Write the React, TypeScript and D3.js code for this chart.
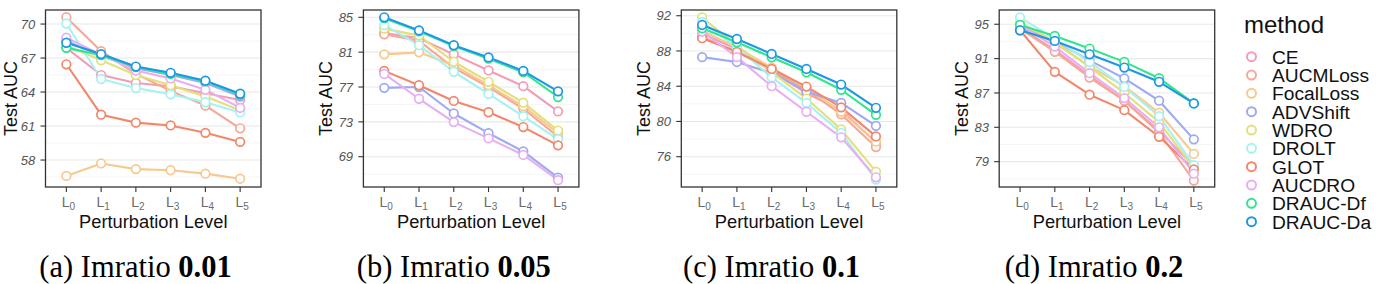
import React from "react";
import * as d3 from "d3";

const LEVELS = ["0", "1", "2", "3", "4", "5"];
const METHODS = ["CE", "AUCMLoss", "FocalLoss", "ADVShift", "WDRO", "DROLT", "GLOT", "AUCDRO", "DRAUC-Df", "DRAUC-Da"];
const COLORS = ["#F29DB6", "#F5A896", "#F8C98F", "#9EAAF0", "#E3DF7B", "#A6F1F2", "#F0886B", "#E7AEF1", "#2FE68E", "#1E97E5"];
const IMRATIOS = ["0.01", "0.05", "0.1", "0.2"];
const LETTERS = ["a", "b", "c", "d"];

// Imratio 0.01
const TICKS_001 = [58, 61, 64, 67, 70];
const DOMAIN_001 = [55.62, 71.24];
const AUC_001 = [
  [67.9, 65.5, 64.8, 64.5, 63.9, 63.3],
  [70.6, 67.6, 65.6, 64.1, 62.8, 60.8],
  [56.6, 57.7, 57.2, 57.1, 56.8, 56.35],
  [68.5, 67.2, 66.1, 65.5, 64.8, 63.6],
  [68.1, 66.8, 65.5, 64.6, 63.6, 62.4],
  [70.05, 65.15, 64.35, 63.8, 63.1, 62.2],
  [66.45, 62.0, 61.3, 61.05, 60.4, 59.6],
  [68.8, 67.3, 65.9, 65.2, 64.2, 62.6],
  [67.9, 67.25, 66.2, 65.6, 64.95, 63.75],
  [68.35, 67.35, 66.25, 65.7, 65.0, 63.85],
];

// Imratio 0.05
const TICKS_005 = [69, 73, 77, 81, 85];
const DOMAIN_005 = [65.52, 85.84];
const AUC_005 = [
  [83.2, 82.6, 80.75, 78.9, 77.1, 74.2],
  [83.05, 82.3, 79.2, 77.0, 74.5, 71.3],
  [80.75, 80.98, 79.5, 77.2, 74.8, 71.7],
  [76.9, 77.0, 73.96, 71.7, 69.6, 66.6],
  [83.7, 82.9, 79.9, 77.6, 75.2, 72.0],
  [84.1, 81.8, 78.75, 76.2, 73.65, 71.0],
  [78.85, 77.2, 75.4, 74.1, 72.4, 70.3],
  [78.5, 75.65, 72.97, 71.1, 69.2, 66.3],
  [84.9, 83.4, 81.7, 80.25, 78.7, 75.85],
  [85.0, 83.5, 81.8, 80.4, 78.85, 76.5],
];

// Imratio 0.1
const TICKS_01 = [76, 80, 84, 88, 92];
const DOMAIN_01 = [72.56, 92.65];
const AUC_01 = [
  [90.0, 88.2, 85.8, 83.2, 81.3, 77.6],
  [89.6, 87.9, 85.8, 83.6, 80.8, 77.1],
  [90.3, 88.4, 86.1, 83.8, 81.1, 77.7],
  [87.3, 86.75, 85.5, 83.4, 82.1, 79.5],
  [91.8, 88.6, 85.6, 82.6, 79.1, 74.3],
  [91.3, 88.4, 85.0, 82.1, 78.7, 73.4],
  [89.45, 87.9, 85.96, 83.96, 81.6, 78.3],
  [90.2, 87.3, 84.0, 81.1, 78.2, 73.66],
  [90.57, 88.98, 87.28, 85.58, 83.6, 80.75],
  [90.95, 89.36, 87.66, 85.96, 84.19, 81.55],
];

// Imratio 0.2
const TICKS_02 = [79, 83, 87, 91, 95];
const DOMAIN_02 = [76.05, 96.66];
const AUC_02 = [
  [94.6, 92.0, 89.0, 86.1, 82.6, 78.5],
  [94.5, 91.8, 88.8, 86.1, 82.4, 76.8],
  [95.0, 92.8, 90.1, 87.8, 84.7, 79.9],
  [94.6, 93.0, 90.8, 88.7, 86.1, 81.6],
  [95.2, 93.0, 90.0, 87.0, 83.6, 78.3],
  [95.8, 93.3, 90.6, 87.7, 84.3, 78.6],
  [94.3, 89.46, 86.8, 85.0, 81.9, 78.1],
  [94.9, 92.4, 89.3, 86.4, 83.0, 77.6],
  [94.92, 93.64, 92.17, 90.62, 88.72, 85.78],
  [94.3, 93.06, 91.5, 89.96, 88.3, 85.78],
];

const PANELS = [
  { ticks: TICKS_001, domain: DOMAIN_001, data: AUC_001 },
  { ticks: TICKS_005, domain: DOMAIN_005, data: AUC_005 },
  { ticks: TICKS_01, domain: DOMAIN_01, data: AUC_01 },
  { ticks: TICKS_02, domain: DOMAIN_02, data: AUC_02 },
];

const SANS = "'Liberation Sans', Arial, Helvetica, sans-serif";
const SERIF = "'Liberation Serif', 'Times New Roman', serif";
const CAPTION_X = [135.5, 453.8, 771.5, 1094];

function Panel({ idx }: { idx: number }) {
  const p = PANELS[idx];
  const left = 45.5 + idx * 317.9;
  const width = 215.5;
  const top = 10;
  const bottom = 187;
  const x = d3.scalePoint<string>().domain(LEVELS).range([left, left + width]).padding(0.6);
  const y = d3.scaleLinear().domain(p.domain).range([bottom, top]);
  const step = p.ticks[1] - p.ticks[0];
  const minors: number[] = [];
  for (let v = p.ticks[0] - step / 2; v <= p.domain[1]; v += step) {
    if (v >= p.domain[0]) minors.push(v);
  }
  const line = d3
    .line<number>()
    .x((_, j) => x(LEVELS[j]) as number)
    .y((v) => y(v));
  const titleX = Math.max(left - 31.6, 16.5);
  return (
    <g>
      {minors.map((m) => (
        <line key={"mn" + m} x1={left} x2={left + width} y1={y(m)} y2={y(m)} stroke="#F2F2F2" strokeWidth={0.8} />
      ))}
      {p.ticks.map((t) => (
        <line key={"mj" + t} x1={left} x2={left + width} y1={y(t)} y2={y(t)} stroke="#E8E8E8" strokeWidth={1.1} />
      ))}
      {p.data.map((s, k) => (
        <path key={"l" + k} d={line(s) || ""} fill="none" stroke={COLORS[k]} strokeWidth={2.1} strokeLinejoin="round" />
      ))}
      {p.data.map((s, k) =>
        s.map((v, j) => (
          <circle
            key={"c" + k + "-" + j}
            cx={x(LEVELS[j]) as number}
            cy={y(v)}
            r={4.3}
            fill="#fff"
            stroke={COLORS[k]}
            strokeWidth={1.7}
          />
        ))
      )}
      <rect x={left} y={top} width={width} height={bottom - top} fill="none" stroke="#333" strokeWidth={1.3} />
      {p.ticks.map((t) => (
        <g key={"yt" + t}>
          <line x1={left - 5} x2={left} y1={y(t)} y2={y(t)} stroke="#333" strokeWidth={1.1} />
          <text
            x={left - 10.3}
            y={y(t)}
            dy="0.36em"
            textAnchor="end"
            fontFamily={SANS}
            fontStyle="italic"
            fontSize={13}
            fill="#555"
          >
            {t}
          </text>
        </g>
      ))}
      {LEVELS.map((l) => (
        <g key={"xt" + l}>
          <line x1={x(l) as number} x2={x(l) as number} y1={bottom} y2={bottom + 5} stroke="#333" strokeWidth={1.1} />
          <text x={(x(l) as number) + 2} y={206.5} textAnchor="middle" fontFamily={SANS} fontSize={14} fill="#6a6a6a">
            L
            <tspan fontSize={10} dy={3}>
              {l}
            </tspan>
          </text>
        </g>
      ))}
      <text
        transform={`translate(${titleX},${(top + bottom) / 2}) rotate(-90)`}
        textAnchor="middle"
        fontFamily={SANS}
        fontSize={18}
        fill="#111"
      >
        Test AUC
      </text>
      <text x={left + width / 2} y={228} textAnchor="middle" fontFamily={SANS} fontSize={18.3} fill="#111">
        Perturbation Level
      </text>
      <text x={CAPTION_X[idx]} y={277} textAnchor="middle" fontFamily={SERIF} fontSize={30.5} fill="#000">
        ({LETTERS[idx]}) Imratio <tspan fontWeight="bold">{IMRATIOS[idx]}</tspan>
      </text>
    </g>
  );
}

export default function App() {
  return (
    <svg
      width={1376}
      height={284}
      viewBox="0 0 1376 284"
      style={{ position: "absolute", left: 0, top: 0, background: "#fff" }}
    >
      <rect x={0} y={0} width={1376} height={284} fill="#fff" />
      {PANELS.map((_, i) => (
        <Panel key={i} idx={i} />
      ))}
      <text x={1244} y={33} fontFamily={SANS} fontSize={24} fill="#111">
        method
      </text>
      {METHODS.map((m, k) => (
        <g key={m}>
          <circle cx={1251.5} cy={56.7 + k * 18.33} r={4.5} fill="#fff" stroke={COLORS[k]} strokeWidth={2} />
          <text x={1272} y={56.7 + k * 18.33} dy="0.36em" fontFamily={SANS} fontSize={19.2} fill="#111">
            {m}
          </text>
        </g>
      ))}
    </svg>
  );
}
